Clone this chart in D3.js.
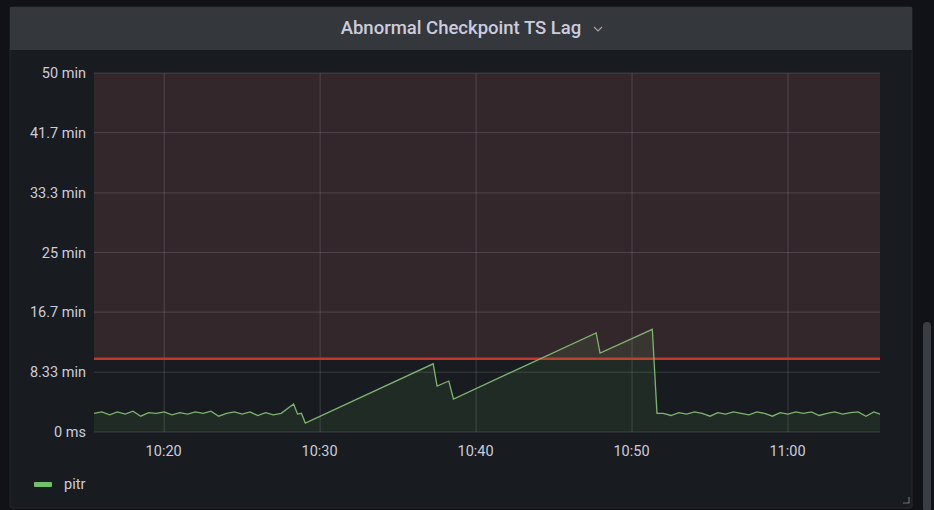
<!DOCTYPE html>
<html><head><meta charset="utf-8">
<script src="https://cdn.jsdelivr.net/npm/d3@7"></script>
<style>body{margin:0;background:#111217;}svg{display:block;font-family:Roboto,"Noto Sans",sans-serif;}</style>
</head><body><svg id="c" width="934" height="510"></svg>
<script>
// minutes after 10:00 and lag in minutes
const times = [15.5,16,16.5,17,17.5,18,18.5,19,19.5,20,20.5,21,21.5,22,22.5,23,23.5,24,24.5,25,25.5,26,26.5,27,27.5,28.3,28.55,28.8,29.05,
 37.25,37.5,38.25,38.55,47.7,47.95,51.3,51.6,
 52,52.5,53,53.5,54,54.5,55,55.5,56,56.5,57,57.5,58,58.5,59,59.5,60,60.5,61,61.5,62,62.5,63,63.5,64,64.5,65,65.5,65.9];
const values = [2.6,2.8,2.4,2.8,2.5,2.9,2.2,2.7,2.6,2.8,2.4,2.7,2.5,2.8,2.6,2.9,2.2,2.6,2.8,2.5,2.8,2.3,2.7,2.4,2.6,3.9,2.5,2.6,1.25,
 9.5,6.4,7.1,4.6,13.8,11.0,14.3,2.6,
 2.6,2.3,2.7,2.5,2.8,2.6,2.2,2.7,2.5,2.8,2.6,2.4,2.8,2.6,2.2,2.7,2.5,2.8,2.6,2.8,2.3,2.6,2.8,2.5,2.7,2.8,2.2,2.8,2.5];
const yTicks = [0,8.33,16.7,25,33.3,41.7,50];
const yLabels = ["0 ms","8.33 min","16.7 min","25 min","33.3 min","41.7 min","50 min"];
const xTicks = [20,30,40,50,60];
const xLabels = ["10:20","10:30","10:40","10:50","11:00"];
const threshold = 10.2;
const seriesName = "pitr";

const svg = d3.select("#c");
svg.append("rect").attr("x",10).attr("y",7).attr("width",902).attr("height",501).attr("rx",2).attr("fill","#181b1f").attr("stroke","#26292e");
svg.append("rect").attr("x",10).attr("y",7).attr("width",902).attr("height",43).attr("fill","#34373c");
svg.append("text").attr("x",461).attr("y",34).attr("text-anchor","middle").attr("fill","#ccccdc").attr("font-size",18.5).attr("font-weight",500).text("Abnormal Checkpoint TS Lag");
svg.append("path").attr("d","M594,27 l4,4 l4,-4").attr("fill","none").attr("stroke","#9fa1a8").attr("stroke-width",1.2);
svg.append("rect").attr("x",923).attr("y",322).attr("width",8).attr("height",190).attr("rx",4).attr("fill","#3a3d43");

const x = d3.scaleLinear().domain([15.5,65.9]).range([94,880]);
const y = d3.scaleLinear().domain([0,50]).range([432,73]);
const g = svg.append("g");
g.append("rect").attr("x",94).attr("y",y(50)).attr("width",786).attr("height",y(threshold)-y(50)).attr("fill","#33272b");
yTicks.forEach((t,i)=>{
  g.append("line").attr("x1",94).attr("x2",880).attr("y1",y(t)).attr("y2",y(t)).attr("stroke","rgba(204,204,220,0.18)");
  g.append("text").attr("x",86).attr("y",y(t)+5).attr("text-anchor","end").attr("fill","#ccccdc").attr("font-size",14.5).text(yLabels[i]);
});
xTicks.forEach((t,i)=>{
  g.append("line").attr("x1",x(t)).attr("x2",x(t)).attr("y1",73).attr("y2",432).attr("stroke","rgba(204,204,220,0.18)");
  g.append("text").attr("x",x(t)-0.5).attr("y",456).attr("text-anchor","middle").attr("fill","#ccccdc").attr("font-size",14.5).text(xLabels[i]);
});
g.append("line").attr("x1",94).attr("x2",880).attr("y1",y(threshold)).attr("y2",y(threshold)).attr("stroke","#c4352a").attr("stroke-width",2.5);
const data = times.map((t,i)=>[t,values[i]]);
g.append("path").datum(data).attr("d",d3.area().x(d=>x(d[0])).y0(y(0)).y1(d=>y(d[1]))).attr("fill","rgba(115,191,105,0.1)");
g.append("path").datum(data).attr("d",d3.line().x(d=>x(d[0])).y(d=>y(d[1]))).attr("fill","none").attr("stroke","#7eb26d").attr("stroke-width",1.3);
svg.append("rect").attr("x",34).attr("y",482).attr("width",18).attr("height",5).attr("rx",1).attr("fill","#73bf69");
svg.append("text").attr("x",64).attr("y",489).attr("fill","#ccccdc").attr("font-size",14.5).text(seriesName);
svg.append("path").attr("d","M903,503 h6 v-6").attr("fill","none").attr("stroke","#6e7078").attr("stroke-width",1.2);
</script></body></html>
